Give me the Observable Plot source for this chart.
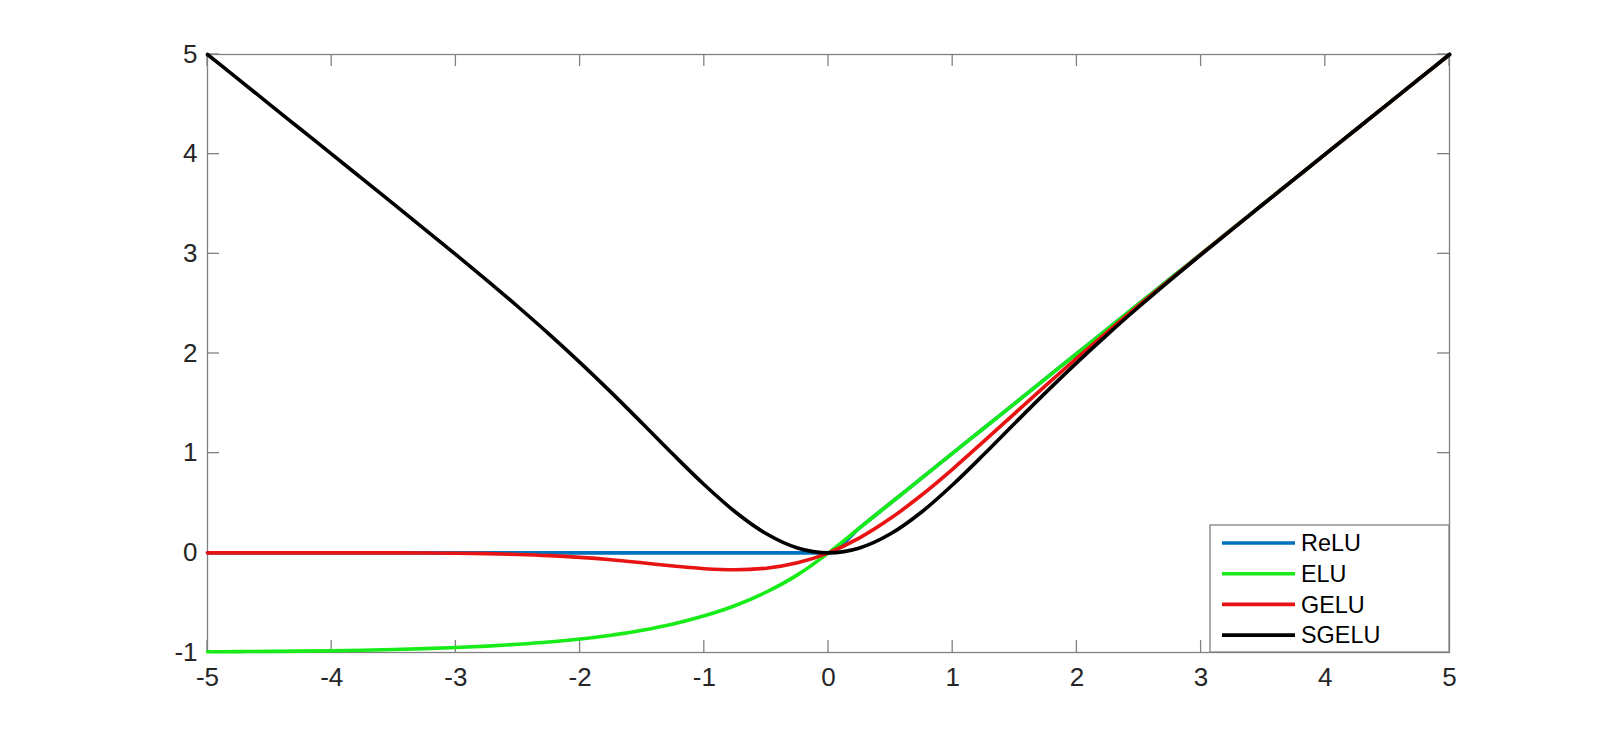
<!DOCTYPE html>
<html><head><meta charset="utf-8">
<script src="https://cdn.jsdelivr.net/npm/d3@7"></script>
<script src="https://cdn.jsdelivr.net/npm/@observablehq/plot@0.6"></script>
<style>body{margin:0;background:#fff}#chart{width:1600px;height:733px}</style>
</head><body><div id="chart"></div>
<script>
const xs = [-5,-4.75,-4.5,-4.25,-4,-3.75,-3.5,-3.25,-3,-2.75,-2.5,-2.25,-2,-1.75,-1.5,-1.25,-1,-0.75,-0.5,-0.25,0,
  0.25,0.5,0.75,1,1.25,1.5,1.75,2,2.25,2.5,2.75,3,3.25,3.5,3.75,4,4.25,4.5,4.75,5];
const relu = [0,0,0,0,0,0,0,0,0,0,0,0,0,0,0,0,0,0,0,0,0,
  0.25,0.5,0.75,1,1.25,1.5,1.75,2,2.25,2.5,2.75,3,3.25,3.5,3.75,4,4.25,4.5,4.75,5];
const elu = [-0.993,-0.991,-0.989,-0.986,-0.982,-0.977,-0.970,-0.961,-0.950,-0.936,-0.918,-0.895,-0.865,-0.826,-0.777,-0.714,-0.632,-0.528,-0.393,-0.221,0,
  0.25,0.5,0.75,1,1.25,1.5,1.75,2,2.25,2.5,2.75,3,3.25,3.5,3.75,4,4.25,4.5,4.75,5];
const gelu = [0,0,0,0,-0.0001,-0.0003,-0.0008,-0.0019,-0.004,-0.008,-0.016,-0.028,-0.046,-0.070,-0.100,-0.132,-0.159,-0.170,-0.154,-0.100,0,
  0.150,0.346,0.580,0.841,1.118,1.400,1.680,1.955,2.223,2.485,2.742,2.996,3.248,3.499,3.750,4.000,4.250,4.500,4.750,5];
const sgelu = [5,4.75,4.5,4.25,4.000,3.749,3.498,3.246,2.992,2.734,2.469,2.195,1.909,1.610,1.300,0.986,0.683,0.410,0.191,0.049,0,
  0.049,0.191,0.410,0.683,0.986,1.300,1.610,1.909,2.195,2.469,2.734,2.992,3.246,3.498,3.749,4.000,4.25,4.5,4.75,5];
const seriesNames = ["ReLU","ELU","GELU","SGELU"];
const seriesValues = [relu, elu, gelu, sgelu];
const xTicks = [-5,-4,-3,-2,-1,0,1,2,3,4,5];
const yTicks = [-1,0,1,2,3,4,5];

const colors = ["#0072BD","#18ec18","#e81414","#000000"];
const boxColor = "#808080";
const textColor = "#262626";
const tickLen = 12;

const data = seriesNames.flatMap((name, j) => xs.map((x, i) => ({x, y: seriesValues[j][i], series: name})));

// inward ticks on all four sides, placed through Plot's scales
function innerTicks(index, scales, values, dim) {
  const l = dim.marginLeft, r = dim.width - dim.marginRight, t = dim.marginTop, b = dim.height - dim.marginBottom;
  const g = d3.create("svg:g").attr("stroke", boxColor).attr("stroke-width", 1.3);
  xTicks.forEach(v => {
    const px = scales.x(v);
    g.append("line").attr("x1", px).attr("x2", px).attr("y1", b).attr("y2", b - tickLen);
    g.append("line").attr("x1", px).attr("x2", px).attr("y1", t).attr("y2", t + tickLen);
  });
  yTicks.forEach(v => {
    const py = scales.y(v);
    g.append("line").attr("x1", l).attr("x2", l + tickLen).attr("y1", py).attr("y2", py);
    g.append("line").attr("x1", r).attr("x2", r - tickLen).attr("y1", py).attr("y2", py);
  });
  return g.node();
}

function legend(index, scales, values, dim) {
  const right = dim.width - dim.marginRight, bottom = dim.height - dim.marginBottom;
  const w = 239, h = 127, left = right - w, top = bottom - h;
  const g = d3.create("svg:g").attr("font-size", "23.4px");
  g.append("rect").attr("x", left).attr("y", top).attr("width", w).attr("height", h)
    .attr("fill", "white").attr("stroke", boxColor).attr("stroke-width", 1.3);
  seriesNames.forEach((n, i) => {
    const cy = top + 18 + i * 30.7;
    g.append("line").attr("x1", left + 12).attr("x2", left + 85).attr("y1", cy).attr("y2", cy)
      .attr("stroke", colors[i]).attr("stroke-width", 3.6);
    g.append("text").attr("x", left + 91).attr("y", cy).attr("dy", "0.35em")
      .attr("text-anchor", "start").attr("fill", "#000").text(n);
  });
  return g.node();
}

const fmt = d => String(d);

const chart = Plot.plot({
  width: 1600, height: 733,
  marginLeft: 207, marginRight: 151, marginTop: 54, marginBottom: 81,
  style: {fontFamily: "'Liberation Sans', Arial, sans-serif", fontSize: "26px", color: textColor, background: "#fff"},
  x: {domain: [-5, 5], label: null},
  y: {domain: [-1, 5], label: null},
  color: {domain: seriesNames, range: colors},
  marks: [
    innerTicks,
    Plot.axisX(xTicks, {anchor: "bottom", tickSize: 0, tickPadding: 15, tickFormat: fmt, fill: textColor, label: null}),
    Plot.axisY(yTicks, {anchor: "left", tickSize: 0, tickPadding: 10, tickFormat: fmt, fill: textColor, label: null}),
    Plot.frame({stroke: boxColor, strokeWidth: 1.3}),
    Plot.line(data, {x: "x", y: "y", z: "series", stroke: "series", strokeWidth: 3.6, curve: "monotone-x"}),
    legend
  ]
});
document.getElementById("chart").appendChild(chart);
</script>
</body></html>
